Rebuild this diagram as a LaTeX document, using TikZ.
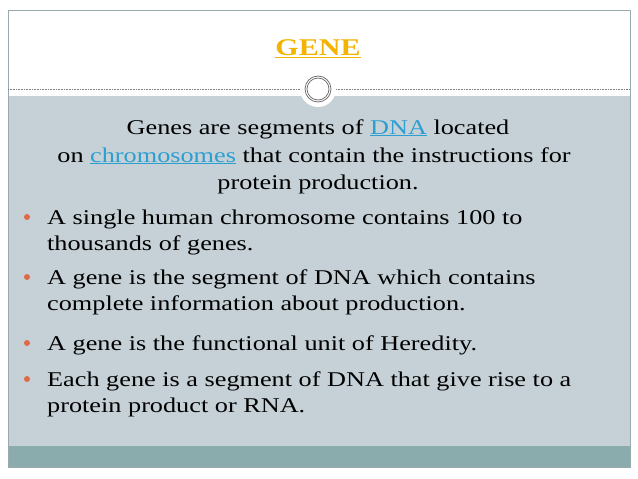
\documentclass[tikz,border=0pt]{standalone}
\usepackage{fontspec}
\setmainfont[FakeStretch=1.25]{Liberation Serif}
\definecolor{bodybg}{HTML}{C6D1D7}
\definecolor{teal}{HTML}{8AACAD}
\definecolor{frame}{HTML}{9AA9AE}
\definecolor{gold}{HTML}{F2B400}
\definecolor{link}{HTML}{2C9FD0}
\definecolor{bul}{HTML}{E06A45}
\begin{document}
\begin{tikzpicture}[x=1pt,y=-1pt,
  txt/.style={anchor=base west,font=\fontsize{21}{21}\selectfont,inner sep=0},
  ctr/.style={anchor=base,font=\fontsize{21}{21}\selectfont,inner sep=0},
  bullet/.style={circle,fill=bul,inner sep=0,minimum size=6}]
\useasboundingbox (0,0) rectangle (638,479);
\fill[white] (0,0) rectangle (638,479);
\fill[bodybg] (8,96) rectangle (630,446);
\fill[teal] (8,446) rectangle (630,467);
\draw[frame,line width=0.8] (8,10) rectangle (630,467);
\draw[gray,densely dotted,line width=0.6] (8,89) -- (630,89);
\node[circle,fill=white,minimum size=36,inner sep=0] (c) at (318,89) {};
\draw[gray!80!black,line width=0.7] (c.center) circle (13);
\draw[gray!80!black,line width=0.7] (c.center) circle (11);
\node[anchor=base,inner sep=0,font=\fontsize{24}{24}\selectfont\bfseries,text=gold] (t) at (318,56) {\underline{GENE}};
\node[ctr] (l1) at (318,134) {Genes are segments of \textcolor{link}{\underline{DNA}} located};
\node[ctr] (l2) at (314,162) {on \textcolor{link}{\underline{chromosomes}} that contain the instructions for};
\node[ctr] (l3) at (318,189) {protein production.};
\node[bullet] (b1) at (27,217) {};
\node[txt] (a1) at (47,224) {A single human chromosome contains 100 to};
\node[txt] (a2) at (47,250) {thousands of genes.};
\node[bullet] (b2) at (27,277) {};
\node[txt] (a3) at (47,284) {A gene is the segment of DNA which contains};
\node[txt] (a4) at (47,310) {complete information about production.};
\node[bullet] (b3) at (27,343) {};
\node[txt] (a5) at (47,350) {A gene is the functional unit of Heredity.};
\node[bullet] (b4) at (27,379) {};
\node[txt] (a6) at (47,386) {Each gene is a segment of DNA that give rise to a};
\node[txt] (a7) at (47,412) {protein product or RNA.};
\end{tikzpicture}
\end{document}
